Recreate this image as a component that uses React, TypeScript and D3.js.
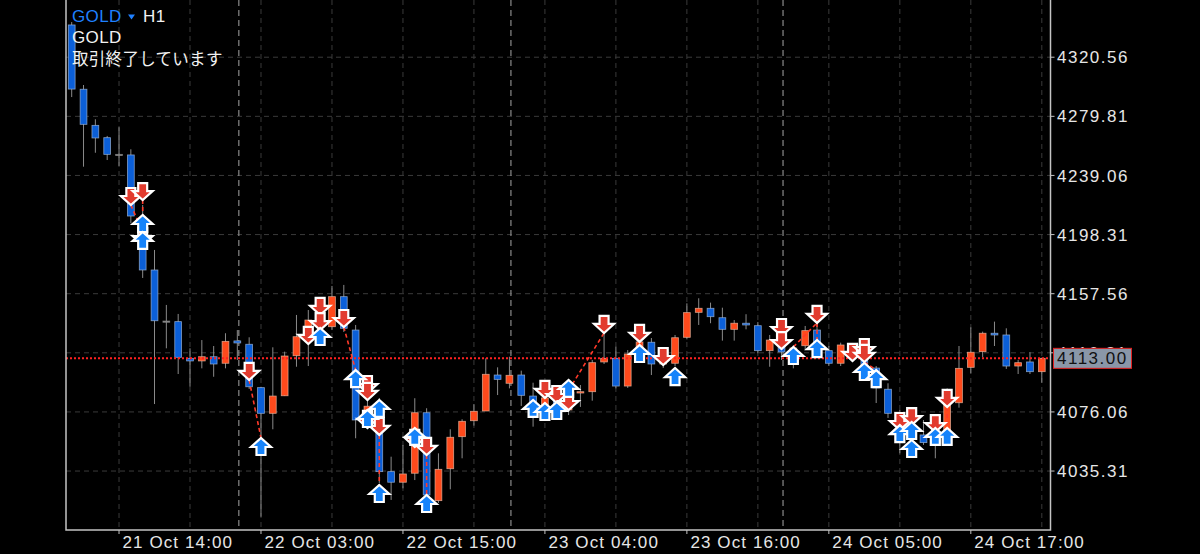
import React, { useRef, useEffect } from 'react';
import * as d3 from 'd3';

// GOLD H1, 21 Oct 10:00 -> 24 Oct 23:00 (one bar per trading hour)
const opens = [
  4342.8, 4298.5, 4273.6, 4265.1, 4253.6, 4253.2, 4208.4, 4173.9, 4138.7, 4138.3,
  4113.0, 4111.2, 4114.1, 4109.6, 4125.0, 4122.7, 4092.8, 4075.1, 4087.2, 4114.8,
  4128.4, 4139.4, 4134.8, 4155.5, 4132.5, 4071.9, 4079.7, 4034.9, 4027.6, 4033.8,
  4075.5, 4014.9, 4036.9, 4059.0, 4070.0, 4076.7, 4101.5, 4095.8, 4101.5, 4087.0,
  4080.8, 4085.7, 4077.4, 4089.1, 4090.0, 4110.5, 4113.0, 4093.9, 4116.0, 4124.1,
  4109.1, 4109.6, 4127.5, 4144.7, 4147.5, 4141.0, 4133.0, 4137.2, 4135.5, 4118.3,
  4125.6, 4115.3, 4121.7, 4132.5, 4118.3, 4109.6, 4122.2, 4117.4, 4106.3, 4091.7,
  4075.3, 4065.0, 4060.2, 4055.3, 4059.5, 4082.4, 4106.8, 4117.6, 4130.3, 4129.1,
  4107.7, 4110.5, 4103.8,
];
const highs = [
  4344.8, 4301.4, 4277.8, 4266.3, 4272.3, 4257.1, 4218.7, 4187.7, 4149.8, 4143.6,
  4119.9, 4125.6, 4121.5, 4130.3, 4132.5, 4127.5, 4093.4, 4120.6, 4117.6, 4142.9,
  4146.3, 4153.2, 4162.9, 4163.6, 4136.0, 4100.1, 4085.7, 4045.2, 4053.3, 4085.5,
  4078.6, 4047.5, 4064.1, 4071.0, 4081.5, 4113.0, 4106.8, 4114.1, 4104.5, 4096.2,
  4091.2, 4089.1, 4092.6, 4094.6, 4111.9, 4130.5, 4121.0, 4118.7, 4127.0, 4127.0,
  4119.9, 4129.1, 4150.9, 4154.4, 4151.4, 4147.9, 4139.4, 4143.4, 4138.0, 4129.1,
  4132.5, 4122.2, 4135.3, 4139.4, 4121.5, 4123.8, 4123.6, 4120.1, 4107.7, 4095.8,
  4077.4, 4070.5, 4070.5, 4067.1, 4092.3, 4121.5, 4134.4, 4131.4, 4138.3, 4133.7,
  4111.9, 4117.2, 4113.4,
];
const lows = [
  4293.1, 4245.1, 4254.7, 4249.7, 4245.6, 4206.1, 4168.4, 4081.5, 4119.9, 4102.2,
  4093.4, 4106.1, 4100.3, 4106.1, 4111.9, 4091.9, 4003.8, 4064.1, 4087.0, 4107.2,
  4107.7, 4130.5, 4132.5, 4131.2, 4057.9, 4067.1, 4027.1, 4015.4, 4023.4, 4029.1,
  4008.5, 4013.3, 4022.7, 4044.1, 4066.6, 4076.7, 4087.7, 4092.3, 4080.2, 4065.9,
  4073.9, 4071.9, 4073.9, 4079.5, 4083.8, 4109.1, 4092.3, 4092.6, 4113.2, 4101.5,
  4106.3, 4107.7, 4126.1, 4136.0, 4137.2, 4125.2, 4125.2, 4133.0, 4116.5, 4107.2,
  4111.9, 4106.1, 4118.7, 4116.5, 4107.7, 4107.7, 4111.9, 4103.6, 4082.2, 4071.9,
  4047.5, 4056.7, 4053.3, 4044.1, 4056.7, 4079.0, 4102.7, 4113.7, 4121.5, 4105.7,
  4102.2, 4102.2, 4096.2,
];
const closes = [
  4298.6, 4274.3, 4264.9, 4253.6, 4253.6, 4211.1, 4173.9, 4138.9, 4138.7, 4113.7,
  4111.2, 4114.1, 4109.1, 4124.7, 4123.6, 4093.4, 4075.1, 4087.0, 4114.6, 4127.9,
  4139.4, 4134.8, 4155.5, 4133.7, 4070.5, 4080.0, 4034.9, 4027.6, 4033.3, 4075.5,
  4018.8, 4036.5, 4058.6, 4069.6, 4076.5, 4102.0, 4098.5, 4101.3, 4087.5, 4080.8,
  4085.7, 4077.4, 4085.7, 4090.0, 4110.0, 4113.0, 4093.9, 4116.0, 4124.3, 4109.1,
  4110.5, 4127.2, 4144.5, 4147.5, 4141.7, 4133.0, 4137.2, 4136.0, 4118.3, 4125.6,
  4117.4, 4120.1, 4132.1, 4118.3, 4109.6, 4122.2, 4117.4, 4106.3, 4092.6, 4075.1,
  4065.0, 4060.8, 4054.9, 4062.2, 4084.3, 4106.1, 4117.2, 4130.3, 4129.1, 4107.7,
  4110.0, 4103.8, 4113.0,
];

const yTicks = [4320.56, 4279.81, 4239.06, 4198.31, 4157.56, 4116.81, 4076.06, 4035.31];
const xTickBars = [4, 16, 28, 40, 52, 64, 76];
const xTickLabels = [
  '21 Oct 14:00', '22 Oct 03:00', '22 Oct 15:00', '23 Oct 04:00',
  '23 Oct 16:00', '24 Oct 05:00', '24 Oct 17:00',
];
const daySeparatorBars = [14, 37, 60];
const lastPrice = 4113.0;

// trade history arrows: [bar, price]
const sellMarks: [number, number][] = [
  [5, 4218.7], [6, 4222.1], [6, 4191.1], [15, 4098.1], [20, 4122.9], [21, 4142.9],
  [21, 4132.5], [23, 4134.6], [25, 4089.1], [25, 4084.3], [25, 4065.0], [26, 4060.2],
  [29, 4051.9], [30, 4046.4], [40, 4085.7], [41, 4082.2], [42, 4077.4], [45, 4130.5],
  [48, 4124.3], [50, 4108.4], [60, 4128.4], [60, 4119.4], [63, 4137.4], [66, 4111.2],
  [67, 4114.6], [67, 4110.5], [70, 4063.6], [71, 4067.0], [73, 4062.2], [74, 4079.5],
];
const buyMarks: [number, number][] = [
  [6, 4211.8], [6, 4200.1], [16, 4058.1], [21, 4133.9], [24, 4104.9], [26, 4084.3],
  [25, 4077.4], [26, 4025.7], [29, 4065.0], [30, 4018.8], [39, 4084.3], [40, 4082.2],
  [41, 4082.9], [42, 4098.1], [48, 4122.2], [51, 4106.3], [61, 4120.8], [63, 4125.6],
  [67, 4109.8], [68, 4104.9], [70, 4067.0], [71, 4069.1], [71, 4056.7], [73, 4065.0],
  [74, 4065.0],
];
// dashed lines joining entry and exit: [bar1, price1, bar2, price2]
const tradeLines: [number, number, number, number][] = [
  [5, 4218.7, 6, 4200.1], [6, 4222.1, 6, 4191.1], [15, 4098.1, 16, 4058.1],
  [23, 4134.6, 24, 4104.9], [26, 4060.2, 26, 4025.7], [30, 4046.4, 30, 4018.8],
  [42, 4091.0, 45, 4130.5], [61, 4120.8, 63, 4137.4], [63, 4137.4, 63, 4125.6],
  [67, 4110.5, 68, 4104.9], [71, 4067.0, 71, 4056.7], [74, 4079.5, 74, 4065.0],
];

const W = 1200;
const H = 554;
const plot = { left: 66, right: 1050.5, top: 0, bottom: 530 };
const FONT = '"Liberation Sans", Arial, sans-serif';

const BULL = '#ff4a1c';
const BEAR = '#0b5fd8';
const WICK = '#8a8a8a';

export default function App() {
  const svgRef = useRef<SVGSVGElement>(null);

  useEffect(() => {
    if (!svgRef.current) return;
    const svg = d3.select(svgRef.current);
    svg.selectAll('*').remove();

    const xScale = d3.scaleLinear().domain([0, closes.length - 1]).range([71.7, 1041.8]);
    const yScale = d3.scaleLinear().domain([3994.67, 4360]).range([plot.bottom, plot.top]);

    svg.append('rect').attr('width', W).attr('height', H).attr('fill', '#000');

    // grid
    const grid = svg.append('g');
    grid.selectAll('.hgrid')
      .data(yTicks)
      .enter().append('line')
      .attr('x1', plot.left).attr('x2', plot.right)
      .attr('y1', d => yScale(d)).attr('y2', d => yScale(d))
      .attr('stroke', '#3a3a3a').attr('stroke-width', 1)
      .attr('stroke-dasharray', '5,4');

    grid.selectAll('.vgrid')
      .data(d3.range(4, closes.length, 6))
      .enter().append('line')
      .attr('x1', d => xScale(d)).attr('x2', d => xScale(d))
      .attr('y1', plot.top).attr('y2', plot.bottom)
      .attr('stroke', '#3a3a3a').attr('stroke-width', 1)
      .attr('stroke-dasharray', '5,4');

    grid.selectAll('.daysep')
      .data(daySeparatorBars)
      .enter().append('line')
      .attr('x1', d => xScale(d) + 1.5).attr('x2', d => xScale(d) + 1.5)
      .attr('y1', plot.top).attr('y2', plot.bottom)
      .attr('stroke', '#8a8a8a').attr('stroke-width', 1.2)
      .attr('stroke-dasharray', '6,4');

    // candles
    const candles = svg.append('g')
      .selectAll('.candle')
      .data(closes.map((c, i) => ({ i, o: opens[i], h: highs[i], l: lows[i], c })))
      .enter().append('g');

    candles.append('line')
      .attr('x1', d => xScale(d.i)).attr('x2', d => xScale(d.i))
      .attr('y1', d => yScale(d.h)).attr('y2', d => yScale(d.l))
      .attr('stroke', WICK).attr('stroke-width', 1);

    const bodyW = 6.8;
    candles.append('rect')
      .attr('x', d => xScale(d.i) - bodyW / 2)
      .attr('width', bodyW)
      .attr('y', d => yScale(Math.max(d.o, d.c)))
      .attr('height', d => Math.max(1.2, Math.abs(yScale(d.o) - yScale(d.c))))
      .attr('fill', d => (d.c > d.o ? BULL : d.c < d.o ? BEAR : WICK))
      .attr('stroke', d => (d.c > d.o ? '#e9b79f' : d.c < d.o ? '#9fb6d8' : WICK))
      .attr('stroke-width', 0.8)
      .attr('stroke-opacity', 0.8);

    // current price line
    svg.append('line')
      .attr('x1', plot.left).attr('x2', plot.right)
      .attr('y1', yScale(lastPrice)).attr('y2', yScale(lastPrice))
      .attr('stroke', '#ff2222').attr('stroke-width', 2)
      .attr('stroke-dasharray', '2,2');

    // trade lines
    svg.append('g')
      .selectAll('line')
      .data(tradeLines)
      .enter().append('line')
      .attr('x1', d => xScale(d[0])).attr('y1', d => yScale(d[1]))
      .attr('x2', d => xScale(d[2])).attr('y2', d => yScale(d[3]))
      .attr('stroke', '#ff3a2a').attr('stroke-width', 1.6)
      .attr('stroke-dasharray', '4,3');

    // arrows
    const downArrow = 'M-4.5,-17L4.5,-17L4.5,-9L10,-9L0,0L-10,-9L-4.5,-9Z';
    const upArrow = 'M-4.5,17L4.5,17L4.5,9L10,9L0,0L-10,9L-4.5,9Z';

    svg.append('g')
      .selectAll('path')
      .data(sellMarks)
      .enter().append('path')
      .attr('d', downArrow)
      .attr('transform', d => `translate(${xScale(d[0])},${yScale(d[1])})`)
      .attr('fill', '#e23b2e')
      .attr('stroke', '#fff').attr('stroke-width', 2.2)
      .attr('stroke-linejoin', 'miter');

    svg.append('g')
      .selectAll('path')
      .data(buyMarks)
      .enter().append('path')
      .attr('d', upArrow)
      .attr('transform', d => `translate(${xScale(d[0])},${yScale(d[1])})`)
      .attr('fill', '#1683fa')
      .attr('stroke', '#fff').attr('stroke-width', 2.2)
      .attr('stroke-linejoin', 'miter');

    // frame
    svg.append('path')
      .attr('d', `M${plot.left},${plot.top - 2}V${plot.bottom}H${plot.right}V${plot.top - 2}`)
      .attr('fill', 'none')
      .attr('stroke', '#c4c4c4').attr('stroke-width', 1.5);

    // y axis
    const ly = yScale(lastPrice);
    const boxTop = ly - 10;
    // the label hidden behind the last-price box only peeks out above it
    svg.append('defs').append('clipPath').attr('id', 'above-box')
      .append('rect').attr('x', plot.right).attr('y', 0)
      .attr('width', W - plot.right).attr('height', boxTop);

    const yAxis = svg.append('g');
    yAxis.selectAll('line')
      .data(yTicks)
      .enter().append('line')
      .attr('x1', plot.right).attr('x2', plot.right + 4)
      .attr('y1', d => yScale(d)).attr('y2', d => yScale(d))
      .attr('stroke', '#c4c4c4').attr('stroke-width', 1);
    yAxis.selectAll('text')
      .data(yTicks)
      .enter().append('text')
      .attr('x', plot.right + 6.5)
      .attr('y', d => yScale(d))
      .attr('dy', '0.36em')
      .attr('fill', '#e6e6e6')
      .attr('font-family', FONT)
      .attr('font-size', 17)
      .attr('letter-spacing', 1.5)
      .attr('clip-path', d => (Math.abs(yScale(d) - ly) < 20 ? 'url(#above-box)' : null))
      .text(d => d.toFixed(2));

    // last price box
    svg.append('rect')
      .attr('x', plot.right + 3).attr('y', boxTop)
      .attr('width', 78).attr('height', 20)
      .attr('fill', '#8a97a8')
      .attr('stroke', '#e02020').attr('stroke-width', 1);
    svg.append('text')
      .attr('x', plot.right + 6.5).attr('y', ly)
      .attr('dy', '0.36em')
      .attr('fill', '#111')
      .attr('font-family', FONT)
      .attr('font-size', 17)
      .attr('letter-spacing', 1.5)
      .text(lastPrice.toFixed(2));

    // x axis
    const xAxis = svg.append('g');
    xAxis.selectAll('line')
      .data(xTickBars)
      .enter().append('line')
      .attr('x1', d => xScale(d)).attr('x2', d => xScale(d))
      .attr('y1', plot.bottom).attr('y2', plot.bottom + 4)
      .attr('stroke', '#c4c4c4').attr('stroke-width', 1);
    xAxis.selectAll('text')
      .data(xTickBars)
      .enter().append('text')
      .attr('x', d => xScale(d) + 3.5)
      .attr('y', 548)
      .attr('fill', '#e6e6e6')
      .attr('font-family', FONT)
      .attr('font-size', 17)
      .attr('letter-spacing', 1.1)
      .text((d, i) => xTickLabels[i]);

    // header
    const hdr = svg.append('g').attr('font-family', FONT);
    hdr.append('text')
      .attr('x', 72).attr('y', 22)
      .attr('fill', '#1f80ff').attr('font-size', 17).attr('letter-spacing', 0.4)
      .text('GOLD');
    hdr.append('path')
      .attr('d', 'M128,14.5L135,14.5L131.5,19.5Z')
      .attr('fill', '#1f80ff');
    hdr.append('text')
      .attr('x', 143).attr('y', 22)
      .attr('fill', '#f2f2f2').attr('font-size', 17).attr('letter-spacing', 0.4)
      .text('H1');
    hdr.append('text')
      .attr('x', 72).attr('y', 42.5)
      .attr('fill', '#f2f2f2').attr('font-size', 17).attr('letter-spacing', 0.4)
      .text('GOLD');
    hdr.append('text')
      .attr('x', 72).attr('y', 65)
      .attr('fill', '#f2f2f2').attr('font-size', 16.5)
      .attr('letter-spacing', 0.3)
      .attr('font-family', '"Noto Sans CJK JP", sans-serif')
      .text('取引終了しています');
  }, []);

  return (
    <svg
      ref={svgRef}
      width={W}
      height={H}
      style={{ position: 'absolute', left: 0, top: 0, display: 'block' }}
    />
  );
}
